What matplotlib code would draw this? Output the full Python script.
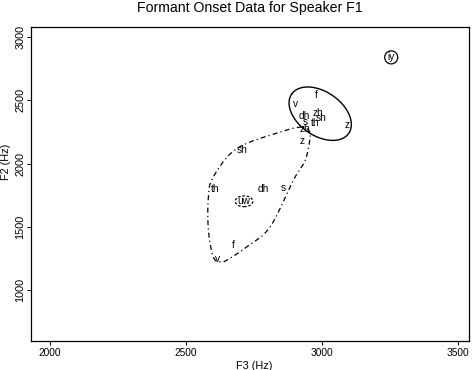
import numpy as np
import matplotlib
matplotlib.use("Agg")
import matplotlib.pyplot as plt
from matplotlib.patches import Ellipse

plt.rcParams['font.family'] = ['Liberation Sans', 'DejaVu Sans']

# Phone labels and formant onsets (F3, F2) in Hz
labels = ["f", "v", "dh", "zh", "sh", "s", "th", "zh", "z", "z",
          "sh", "th", "dh", "s", "f", "v"]
f3 = [2980, 2901, 2934, 2985, 2996, 2938, 2974, 2938, 3092, 2926,
      2706, 2607, 2783, 2857, 2673, 2614]
f2 = [2539, 2468, 2373, 2397, 2358, 2326, 2318, 2271, 2302, 2176,
      2105, 1797, 1797, 1805, 1355, 1245]

# circled vowel labels
vowels = ["uw", "iy"]
vowel_f3 = [2713, 3254]
vowel_f2 = [1702, 2839]

# outline of the dashed region (F3, F2)
region_f3 = [2925, 2846, 2686, 2600, 2582, 2582, 2600, 2625, 2650, 2723,
             2809, 2894, 2938, 2956, 2950]
region_f2 = [2289, 2249, 2118, 1894, 1736, 1474, 1263, 1223, 1237, 1342,
             1500, 1868, 2026, 2210, 2263]

fig = plt.figure(figsize=(4.74, 3.70), dpi=100)
ax = fig.add_axes([0.0654, 0.0784, 0.9241, 0.8486])
ax.set_xlim(1930, 3540)
ax.set_ylim(598, 3079)

for lab, x, y in zip(labels, f3, f2):
    ax.text(x, y, lab, fontsize=7.3, ha='center', va='center')
for lab, x, y in zip(vowels, vowel_f3, vowel_f2):
    ax.text(x, y, lab, fontsize=7.3, ha='center', va='center')

# small dashed ellipse around uw, circle around iy
ax.add_patch(Ellipse((vowel_f3[0], vowel_f2[0]), 65, 85, fill=False,
                     ls=(0, (2, 1.5)), lw=0.9, color='black'))
ax.add_patch(Ellipse((vowel_f3[1], vowel_f2[1]), 48, 103, fill=False,
                     lw=0.9, color='black'))

# solid ellipse around upper cluster (parametric, in data units)
t = np.linspace(0, 2 * np.pi, 200)
cx, cy = 2993, 2394
ax_major = np.array([-104, 158])
ax_minor = np.array([48, 140])
ex = cx + ax_major[0] * np.cos(t) + ax_minor[0] * np.sin(t)
ey = cy + ax_major[1] * np.cos(t) + ax_minor[1] * np.sin(t)
ax.plot(ex, ey, color='black', lw=1.0)

# dashed region: closed Catmull-Rom spline through outline points
px = np.array(region_f3, float)
py = np.array(region_f2, float)
n = len(px)
sx, sy = [], []
for i in range(n):
    p0 = np.array([px[(i - 1) % n], py[(i - 1) % n]])
    p1 = np.array([px[i], py[i]])
    p2 = np.array([px[(i + 1) % n], py[(i + 1) % n]])
    p3 = np.array([px[(i + 2) % n], py[(i + 2) % n]])
    for s in np.linspace(0, 1, 20, endpoint=False):
        pt = 0.5 * ((2 * p1) + (-p0 + p2) * s
                    + (2 * p0 - 5 * p1 + 4 * p2 - p3) * s ** 2
                    + (-p0 + 3 * p1 - 3 * p2 + p3) * s ** 3)
        sx.append(pt[0]); sy.append(pt[1])
sx.append(sx[0]); sy.append(sy[0])
ax.plot(sx, sy, color='black', lw=0.9, ls=(0, (4, 2.5, 1, 2.5)))

ax.set_xticks([2000, 2500, 3000, 3500])
ax.set_yticks([1000, 1500, 2000, 2500, 3000])
ax.tick_params(direction='out', length=3, width=0.7, pad=2)
ax.tick_params(axis='x', labelsize=7.3)
ax.tick_params(axis='y', labelsize=7.8, pad=1)
for lab in ax.get_yticklabels():
    lab.set_rotation(90)
    lab.set_va('center')
for sp in ax.spines.values():
    sp.set_linewidth(0.9)

ax.set_xlabel("F3 (Hz)", fontsize=7.8)
ax.xaxis.set_label_coords(0.51, -0.065)
ax.set_ylabel("F2 (Hz)", fontsize=7.8)
ax.yaxis.set_label_coords(-0.045, 0.57)
fig.text(0.527, 0.978, "Formant Onset Data for Speaker F1", fontsize=10.2,
         ha='center', va='center')

fig.savefig("out.png", dpi=100)
